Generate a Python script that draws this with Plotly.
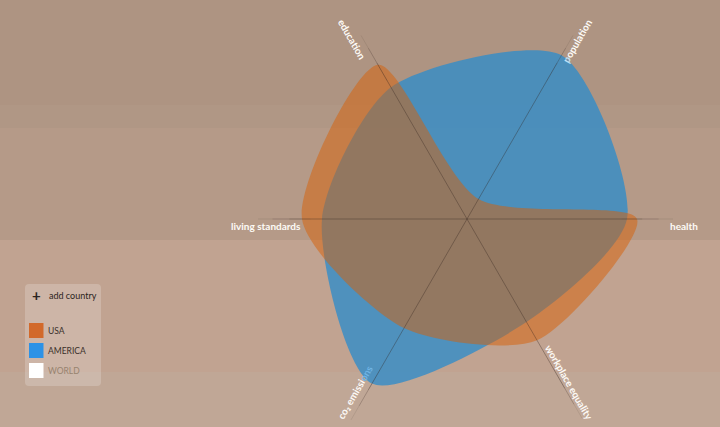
import numpy as np
import plotly.graph_objects as go

# radar axes, counter-clockwise from the right
axis_names = ["health", "population", "education", "living standards", "co₂ emissions", "workplace equality"]
axis_angles = [0, 60, 120, 180, 240, 300]
axis_lengths = [206, 212, 212, 209, 232, 230]

usa = [170, 23, 178, 165, 126, 140]
america = [160, 189, 152, 145, 190, 119]

legend_names = ["USA", "AMERICA", "WORLD"]
legend_colors = ["#d2692a", "#2d92e6", "#ffffff"]
legend_text = ["#3a302a", "#3a302a", "#97836f"]

band_edges = [0, 105, 128, 240, 372, 427]
band_colors = ["#ae9482", "#b09785", "#b59a88", "#c1a391", "#c0a796"]

cx, cy = 467, 219


def to_xy(r, angle):
    a = np.radians(angle)
    return cx + np.array(r) * np.cos(a), cy - np.array(r) * np.sin(a)


def closed(vals):
    return np.array(list(vals) + [vals[0]], dtype=float)


fig = go.Figure()

ang = closed(axis_angles)

x, y = to_xy(closed(america), ang)
fig.add_trace(go.Scatter(x=x, y=y, mode="lines", fill="toself", fillcolor="rgba(50,140,200,0.8)",
                         line=dict(width=0, shape="spline", smoothing=0.75)))

x, y = to_xy(closed(usa), ang)
fig.add_trace(go.Scatter(x=x, y=y, mode="lines", fill="toself", fillcolor="rgba(215,95,5,0.5)",
                         line=dict(width=0, shape="spline", smoothing=0.75)))

# spokes, fading towards the outer end
for angle, length in zip(axis_angles, axis_lengths):
    steps = [0, 0.75, 0.85, 0.93, 1.0]
    alphas = [0.35, 0.4, 0.25, 0.1]
    for i in range(len(alphas)):
        x, y = to_xy([length * steps[i], length * steps[i + 1]], angle)
        fig.add_trace(go.Scatter(x=x, y=y, mode="lines",
                                 line=dict(color="rgba(50,35,30,%s)" % alphas[i], width=1)))

# background bands
shapes = []
for i in range(len(band_colors)):
    shapes.append(dict(type="rect", xref="x", yref="y", x0=0, x1=720, y0=band_edges[i], y1=band_edges[i + 1],
                       fillcolor=band_colors[i], line_width=0, layer="below"))

# legend panel
shapes.append(dict(type="path", xref="x", yref="y", layer="above", line_width=0, fillcolor="rgba(255,255,255,0.2)",
                   path="M 29 284 L 97 284 Q 101 284 101 288 L 101 382 Q 101 386 97 386 L 29 386 Q 25 386 25 382 L 25 288 Q 25 284 29 284 Z"))
legend_tops = [323, 343, 363]
for top, col in zip(legend_tops, legend_colors):
    shapes.append(dict(type="rect", xref="x", yref="y", x0=29, x1=43.5, y0=top, y1=top + 15,
                       fillcolor=col, line_width=0, layer="above"))

label_font = dict(family="Lato", size=10, weight=700, color="#fdfaf6")
annotations = [
    dict(x=684, y=226, text="health", textangle=0),
    dict(x=577, y=41, text="<span style='color:#bfe0f5'>p</span>opulation", textangle=-60),
    dict(x=352, y=39, text="education", textangle=60),
    dict(x=266, y=226, text="living standards", textangle=0),
    dict(x=355, y=392, text="co₂ emissi<span style='color:#6fb4e4'>ons</span>", textangle=-60),
    dict(x=569, y=382, text="workplace equality", textangle=60),
]
for a in annotations:
    a.update(xref="x", yref="y", showarrow=False, font=label_font)

small = dict(family="Lato", size=8.5)
annotations.append(dict(x=36, y=295, xref="x", yref="y", text="<b>+</b>", showarrow=False,
                        font=dict(family="Lato", size=15, color="#2b2420")))
annotations.append(dict(x=46.5, y=295, xref="x", yref="y", text="add country", showarrow=False, xanchor="left",
                        font=dict(small, size=9, color="#2b2420")))
for top, name, col in zip(legend_tops, legend_names, legend_text):
    annotations.append(dict(x=46, y=top + 8, xref="x", yref="y", text=name, showarrow=False, xanchor="left",
                            font=dict(small, color=col)))

fig.update_layout(
    width=720, height=427, margin=dict(l=0, r=0, t=0, b=0),
    showlegend=False, shapes=shapes, annotations=annotations,
    paper_bgcolor="#b59a88", plot_bgcolor="rgba(0,0,0,0)",
    xaxis=dict(range=[0, 720], visible=False, fixedrange=True),
    yaxis=dict(range=[427, 0], visible=False, fixedrange=True),
)

# page margin would push the chart off the window
fig.write_html("out.html", config=dict(displayModeBar=False),
               post_script="document.body.style.margin='0';document.documentElement.style.overflow='hidden';")
